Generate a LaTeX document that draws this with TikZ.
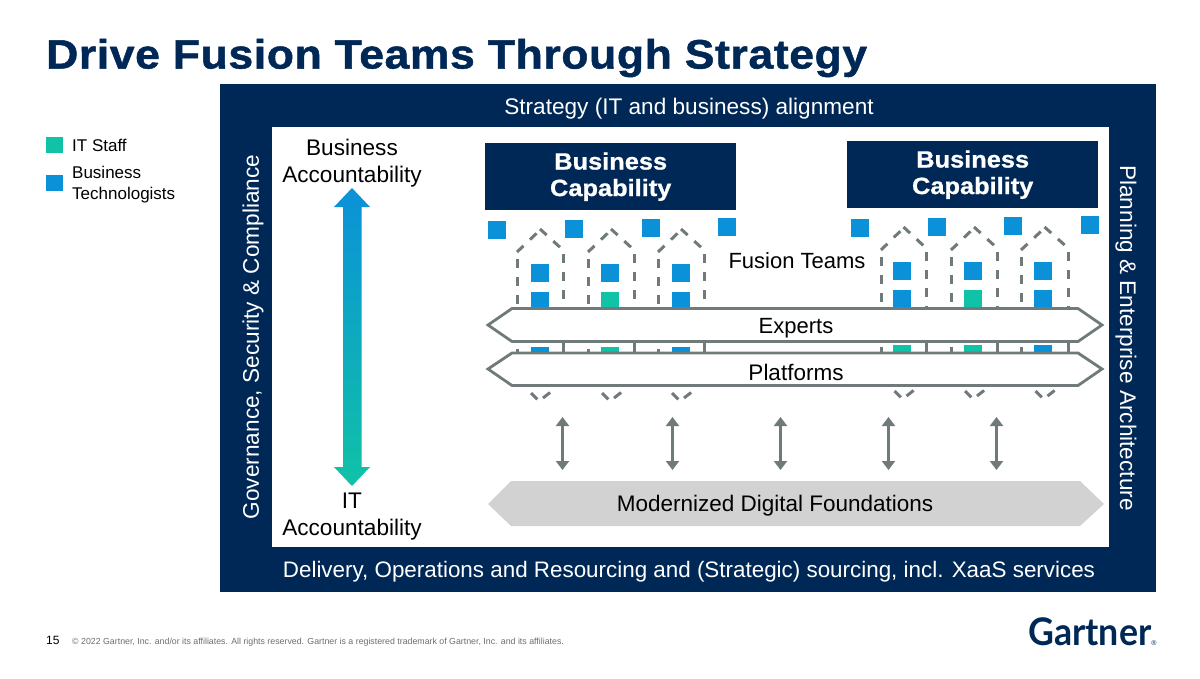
\documentclass[tikz,border=0pt]{standalone}
\usepackage{fontspec}
\setmainfont{Liberation Sans}
\newfontfamily\titlefont[FakeBold=1.2,FakeStretch=1.085,LetterSpace=1.5]{Liberation Sans Bold}
\newfontfamily\capfont[FakeBold=0.9,FakeStretch=1.08]{Liberation Sans Bold}
\newfontfamily\logofont[FakeStretch=0.94]{Lato Bold}
\usetikzlibrary{arrows.meta}
\definecolor{navy}{HTML}{002856}
\definecolor{sqblue}{HTML}{0B91D8}
\definecolor{sqgreen}{HTML}{10C2A6}
\definecolor{bandgray}{HTML}{707A7A}
\definecolor{foundgray}{HTML}{D2D2D2}
\definecolor{foottext}{HTML}{6E6E6E}
\tikzset{
  x=1pt,y=-1pt,
  lbl/.style={inner sep=0pt,outer sep=0pt,text=black,font=\fontsize{22.6}{27}\selectfont,align=center},
  whitelbl/.style={lbl,text=white},
  capbox/.style={fill=navy},
  caplbl/.style={inner sep=0pt,text=white,align=center,font=\capfont\fontsize{23.5}{26.5}\selectfont},
  band/.style={draw=bandgray,line width=2.8pt,fill=white,line join=miter},
  housewall/.style={draw=bandgray,line width=3pt,dash pattern=on 9pt off 9pt},
  housesolid/.style={draw=bandgray,line width=3pt},
  updown/.style={draw=bandgray,line width=2.4pt,{Triangle[length=9pt,width=13pt]}-{Triangle[length=9pt,width=13pt]}},
}
% square: x, y, colour
\newcommand{\sq}[3]{\fill[#3] (#1,#2) rectangle ++(18,18);}
\begin{document}
\begin{tikzpicture}
\useasboundingbox (0,0) rectangle (1200,678);
\fill[white] (0,0) rectangle (1200,678);

\node[anchor=west,inner sep=0pt,text=navy,font=\titlefont\fontsize{41}{44}\selectfont] (title) at (46,58) {Drive Fusion Teams Through Strategy};

% legend
\fill[sqgreen] (46,137) rectangle (63,153);
\fill[sqblue] (46,175) rectangle (63,191);
\node[anchor=west,inner sep=0pt,font=\fontsize{17}{21}\selectfont] (legit) at (72,145) {IT Staff};
\node[anchor=west,inner sep=0pt,align=left,font=\fontsize{17}{21}\selectfont] (legbt) at (72,185) {Business\\Technologists};

% frame
\fill[navy] (220,84) rectangle (1156,592);
\fill[white] (272,127) rectangle (1109,547);
\node[whitelbl] (strategy) at (689,108.5) {Strategy (IT and business) alignment};
\node[whitelbl,font=\fontsize{22.4}{27}\selectfont] (delivery) at (689,571.5) {Delivery, Operations and Resourcing and (Strategic) sourcing, incl. XaaS services};
\node[whitelbl,rotate=90] (gov) at (253,337) {Governance, Security \& Compliance};
\node[whitelbl,rotate=-90] (plan) at (1126,338) {Planning \& Enterprise Architecture};

% capability boxes
\node[capbox,minimum width=251pt,minimum height=67pt,inner sep=0pt,anchor=north west] (cap1) at (485,143) {};
\node[capbox,minimum width=251pt,minimum height=67pt,inner sep=0pt,anchor=north west] (cap2) at (847,141) {};
\node[caplbl] at (cap1.center) {Business\\Capability};
\node[caplbl] at (cap2.center) {Business\\Capability};

% accountability arrow
\node[lbl] (baccount) at (352,163) {Business\\Accountability};
\node[lbl] (iaccount) at (352,517) {IT\\Accountability};
\shade[top color=sqblue,bottom color=sqgreen] (352,188) -- (370,207) -- (361.5,207) -- (361.5,467) -- (370,467) -- (352,486) -- (334,467) -- (343,467) -- (343,207) -- (334,207) -- cycle;

% outer squares
\foreach \x/\y in {488/221,565/220,642/219,718/218,851/219,928/218,1004/217,1081/216}{\sq{\x}{\y}{sqblue}}

% houses: left wall, right wall, apex y, eave y
\foreach \l/\r/\a/\e in {517/563/229/250, 588/634/229/250, 658/704/229/250, 881/926/227/248, 951/997/227/248, 1021/1068/227/248}{
  \pgfmathsetmacro{\m}{(\l+\r)/2}
  \draw[housewall] (\l,\e+2) -- (\m-1,\a+2);
  \draw[housewall] (\m,\a) -- (\r,\e);
  \draw[housewall] (\l,\e+9) -- (\l,385);
  \draw[housewall] (\r,\e+4) -- (\r,385);
  \draw[housesolid] (\r,340) -- (\r,354);
  \draw[housewall] (\m-9,\a+164) -- (\m-1,\a+172);
  \draw[housewall] (\m+3,\a+169) -- (\m+12,\a+162);
}

% house squares: x, top row y, row-2 colour, row-3 colour
\foreach \x/\y/\b/\c in {531/264/sqblue/sqblue, 601/264/sqgreen/sqgreen, 672/264/sqblue/sqblue, 893/262/sqblue/sqgreen, 964/262/sqgreen/sqgreen, 1034/262/sqblue/sqblue}{
  \sq{\x}{\y}{sqblue}
  \sq{\x}{\y+28}{\b}
  \sq{\x}{\y+83}{\c}
}

% bands
\draw[band] (488,325) -- (512,308.5) -- (1078,308.5) -- (1102,325) -- (1078,341.5) -- (512,341.5) -- cycle;
\draw[band] (488,369) -- (512,353) -- (1078,353) -- (1102,369) -- (1078,385.5) -- (512,385.5) -- cycle;
\node[lbl,font=\fontsize{22}{24}\selectfont] (experts) at (796,328) {Experts};
\node[lbl,font=\fontsize{22.5}{24}\selectfont] (platforms) at (796,372) {Platforms};
\node[lbl,font=\fontsize{22}{24}\selectfont] (fusion) at (797,261) {Fusion Teams};

% foundation and double arrows
\fill[foundgray] (488,504) -- (511,481) -- (1080,481) -- (1104,504) -- (1080,526) -- (511,526) -- cycle;
\node[lbl,font=\fontsize{22.5}{25}\selectfont] (found) at (775,506) {Modernized Digital Foundations};
\foreach \n/\x in {a/562.5,b/672.5,c/780.5,d/888.5,e/996.5}{
  \coordinate (\n1) at (\x,417);
  \coordinate (\n2) at (\x,470);
  \draw[updown] (\n1) -- (\n2);
}

% footer
\node[anchor=west,inner sep=0pt,font=\fontsize{12}{12}\selectfont] (page) at (46,640.5) {15};
\node[anchor=west,inner sep=0pt,text=foottext,font=\fontsize{8.8}{10}\selectfont] (copy) at (72,642.5) {© 2022 Gartner, Inc. and/or its affiliates. All rights reserved. Gartner is a registered trademark of Gartner, Inc. and its affiliates.};
\node[anchor=base west,inner sep=0pt,text=navy,font=\logofont\fontsize{38}{40}\selectfont] (logo) at (1028,645) {Gartner{\rmfamily\fontsize{7}{7}\selectfont ®}};
\end{tikzpicture}
\end{document}
